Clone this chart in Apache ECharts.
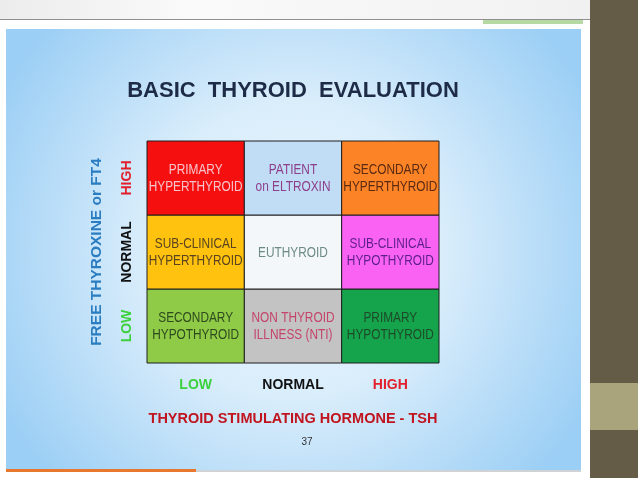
<!DOCTYPE html>
<html>
<head>
<meta charset="utf-8">
<script src="https://cdn.jsdelivr.net/npm/echarts@6/dist/echarts.min.js"></script>
<style>
html,body{margin:0;padding:0;background:#ffffff;}
#chart{width:638px;height:478px;}
</style>
</head>
<body>
<div id="chart"></div>
<script>
// TSH levels (x axis) and FT4 levels (y axis, bottom to top)
const tshLevels = ['LOW', 'NORMAL', 'HIGH'];
const ft4Levels = ['LOW', 'NORMAL', 'HIGH'];
const levelColors = { LOW: '#3dd13d', NORMAL: '#111111', HIGH: '#e2202c' };

// Diagnosis grid, rows listed from FT4 LOW to FT4 HIGH, columns TSH LOW..HIGH
const diagnoses = [
  ['SECONDARY\nHYPOTHYROID', 'NON THYROID\nILLNESS (NTI)', 'PRIMARY\nHYPOTHYROID'],
  ['SUB-CLINICAL\nHYPERTHYROID', 'EUTHYROID', 'SUB-CLINICAL\nHYPOTHYROID'],
  ['PRIMARY\nHYPERTHYROID', 'PATIENT\non ELTROXIN', 'SECONDARY\nHYPERTHYROID']
];
const cellColors = [
  ['#8fcb46', '#c3c3c3', '#15a44b'],
  ['#ffc20e', '#f3f7fa', '#fa62f3'],
  ['#f50f0f', '#c1ddf5', '#fd8327']
];
const textColors = [
  ['#2d4a1e', '#c4446b', '#1d4a29'],
  ['#5a4420', '#6d8b80', '#5c1f88'],
  ['#f7c3cb', '#8d3f8b', '#5a2a12']
];

const data = [];
ft4Levels.forEach(function (fy, yi) {
  tshLevels.forEach(function (tx, xi) {
    data.push({ value: [xi, yi, 1], name: diagnoses[yi][xi] });
  });
});

const FONT = 'Liberation Sans, Arial, sans-serif';
const chart = echarts.init(document.getElementById('chart'), null, { renderer: 'canvas' });
const richLevels = {
  LOW: { color: levelColors.LOW, fontWeight: 'bold', fontSize: 14, fontFamily: FONT },
  NORMAL: { color: levelColors.NORMAL, fontWeight: 'bold', fontSize: 14, fontFamily: FONT },
  HIGH: { color: levelColors.HIGH, fontWeight: 'bold', fontSize: 14, fontFamily: FONT }
};

function renderCell(params, api) {
  const xi = api.value(0), yi = api.value(1);
  const c = api.coord([xi, yi]);
  const s = api.size([1, 1]);
  return {
    type: 'group',
    children: [
      {
        type: 'rect',
        shape: { x: c[0] - s[0] / 2, y: c[1] - s[1] / 2, width: s[0], height: s[1] },
        style: { fill: cellColors[yi][xi], stroke: '#1e1e1e', lineWidth: 1 }
      },
      {
        type: 'text',
        x: c[0], y: c[1] + 0.5, scaleX: 0.765, scaleY: 1,
        style: {
          text: diagnoses[yi][xi],
          fill: textColors[yi][xi],
          fontFamily: FONT, fontSize: 15.5, lineHeight: 17,
          align: 'center', verticalAlign: 'middle'
        }
      }
    ]
  };
}

chart.setOption({
  animation: false,
  graphic: {
    elements: [
      { type: 'rect', left: 0, top: 0, z: -10, silent: true, shape: { width: 638, height: 19 },
        style: { fill: new echarts.graphic.LinearGradient(0, 0, 1, 0, [{ offset: 0, color: '#ececec' }, { offset: 0.3, color: '#fafafa' }, { offset: 1, color: '#f0f0f0' }]) } },
      { type: 'rect', left: 0, top: 19, z: -9, silent: true, shape: { width: 590, height: 1 }, style: { fill: '#8f8f8f' } },
      { type: 'rect', left: 483, top: 20, z: -9, silent: true, shape: { width: 100, height: 4 }, style: { fill: '#b6d8a2' } },
      { type: 'rect', left: 6, top: 29, z: -9, silent: true, shape: { width: 575, height: 442 },
        style: { fill: new echarts.graphic.RadialGradient(0.5, 0.5, 0.75, [{ offset: 0, color: '#eef7fd' }, { offset: 0.45, color: '#d9edfb' }, { offset: 1, color: '#9ccff5' }]) } },
      { type: 'rect', left: 6, top: 470, z: -8, silent: true, shape: { width: 575, height: 2 }, style: { fill: '#cfd3d6' } },
      { type: 'rect', left: 6, top: 469, z: -7, silent: true, shape: { width: 190, height: 3 }, style: { fill: '#e8782e' } },
      { type: 'rect', left: 590, top: 0, z: -9, silent: true, shape: { width: 48, height: 478 }, style: { fill: '#655c48' } },
      { type: 'rect', left: 590, top: 383, z: -8, silent: true, shape: { width: 48, height: 47 }, style: { fill: '#a9a47c' } }
    ]
  },
  title: [
    {
      text: 'BASIC  THYROID  EVALUATION',
      left: 288, top: 75, textAlign: 'center',
      textStyle: { fontFamily: FONT, fontSize: 22, fontWeight: 'bold', color: '#1e2b47' }
    },
    {
      text: '37',
      left: 302, top: 432, textAlign: 'center',
      textStyle: { fontFamily: FONT, fontSize: 10, fontWeight: 'normal', color: '#333333' }
    }
  ],
  grid: { left: 147, right: 199, top: 141, bottom: 115 },
  xAxis: {
    type: 'category',
    data: tshLevels,
    position: 'bottom',
    axisLine: { show: false },
    axisTick: { show: false },
    splitLine: { show: false },
    axisLabel: {
      interval: 0,
      margin: 15,
      formatter: function (v) { return '{' + v + '|' + v + '}'; },
      rich: richLevels
    },
    name: 'THYROID STIMULATING HORMONE - TSH',
    nameLocation: 'middle',
    nameGap: 48,
    nameTextStyle: { fontFamily: FONT, fontSize: 14.5, fontWeight: 'bold', color: '#c0141f' }
  },
  yAxis: {
    type: 'category',
    data: ft4Levels,
    axisLine: { show: false },
    axisTick: { show: false },
    splitLine: { show: false },
    axisLabel: {
      interval: 0,
      rotate: 90,
      margin: 13,
      formatter: function (v) { return '{' + v + '|' + v + '}'; },
      rich: richLevels
    },
    name: 'FREE THYROXINE or FT4',
    nameLocation: 'middle',
    nameGap: 42,
    nameTextStyle: { fontFamily: FONT, fontSize: 15.5, fontWeight: 'bold', color: '#2a7dc0' }
  },
  series: [{
    type: 'custom',
    renderItem: renderCell,
    data: data,
    encode: { x: 0, y: 1 },
    silent: true
  }]
});
</script>
</body>
</html>
